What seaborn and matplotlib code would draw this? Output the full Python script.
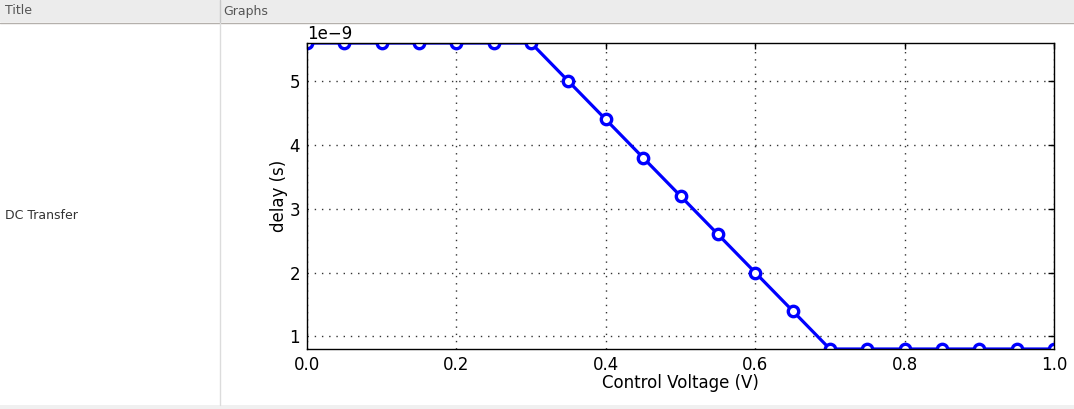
import numpy as np
import pandas as pd
import matplotlib
matplotlib.use("Agg")
import matplotlib.pyplot as plt
from matplotlib.patches import Rectangle
from matplotlib.lines import Line2D
import seaborn as sns

# Data
control_voltage = [0.0, 0.05, 0.1, 0.15, 0.2, 0.25, 0.3, 0.35, 0.4, 0.45, 0.5,
                   0.55, 0.6, 0.65, 0.7, 0.75, 0.8, 0.85, 0.9, 0.95, 1.0]
delay_ns = [5.6, 5.6, 5.6, 5.6, 5.6, 5.6, 5.6, 5.0, 4.4, 3.8, 3.2,
            2.6, 2.0, 1.4, 0.8, 0.8, 0.8, 0.8, 0.8, 0.8, 0.8]
row_title = "DC Transfer"
header_cols = ["Title", "Graphs"]

df = pd.DataFrame({"Control Voltage (V)": control_voltage,
                   "delay (s)": np.array(delay_ns) * 1e-9})

sns.set_style("white")
plt.rcParams["font.family"] = ["DejaVu Sans"]
plt.rcParams["xtick.direction"] = "in"
plt.rcParams["ytick.direction"] = "in"
plt.rcParams["text.color"] = "black"
plt.rcParams["axes.labelcolor"] = "black"
plt.rcParams["xtick.color"] = "black"
plt.rcParams["ytick.color"] = "black"

W, H = 1074, 409
fig = plt.figure(figsize=(W / 100, H / 100), dpi=100)

# table-like frame around the chart
fig.patches.append(Rectangle((0, 1 - 22 / H), 1, 22 / H, transform=fig.transFigure,
                             facecolor="#ececec", edgecolor="none", zorder=-5))
fig.add_artist(Line2D([0, 1], [1 - 22.5 / H] * 2, transform=fig.transFigure,
                      color="#b4b0ac", lw=1))
fig.add_artist(Line2D([219.5 / W] * 2, [1 - 22 / H, 1], transform=fig.transFigure,
                      color="#c8c8c8", lw=1))
fig.add_artist(Line2D([219.5 / W] * 2, [4 / H, 1 - 23 / H], transform=fig.transFigure,
                      color="#dcdcdc", lw=1))
fig.patches.append(Rectangle((0, 0), 1, 4 / H, transform=fig.transFigure,
                             facecolor="#f0f0f0", edgecolor="none", zorder=-5))
fig.text(5 / W, 1 - 11 / H, header_cols[0], fontsize=9, color="#555555", va="center")
fig.text(223 / W, 1 - 11 / H, header_cols[1], fontsize=9, color="#555555", va="center")
fig.text(5 / W, 1 - 215 / H, row_title, fontsize=9, color="#333333", va="center")

ax = fig.add_axes([307 / W, 1 - 349 / H, (1054 - 307) / W, (349 - 43) / H])
sns.lineplot(data=df, x="Control Voltage (V)", y="delay (s)", ax=ax,
             color="blue", lw=2.3, marker="o", markersize=7.5,
             markerfacecolor="white", markeredgecolor="blue", markeredgewidth=2.4)

ax.set_xlim(0, 1.0)
ax.set_ylim(min(delay_ns) * 1e-9, max(delay_ns) * 1e-9)
ax.set_xticks([0.0, 0.2, 0.4, 0.6, 0.8, 1.0])
ax.set_yticks(np.arange(1, 6) * 1e-9)
ax.tick_params(labelsize=12, length=4, width=1, top=True, right=True, pad=5)
ax.yaxis.get_offset_text().set_fontsize(12)
ax.set_xlabel("Control Voltage (V)", fontsize=12, labelpad=0)
ax.set_ylabel("delay (s)", fontsize=12, labelpad=1)
ax.grid(True, color="#333333", linestyle=(0, (1, 4.2)), lw=1.0)
for s in ax.spines.values():
    s.set_color("black")
    s.set_linewidth(1)

fig.savefig("out.png", dpi=100)
